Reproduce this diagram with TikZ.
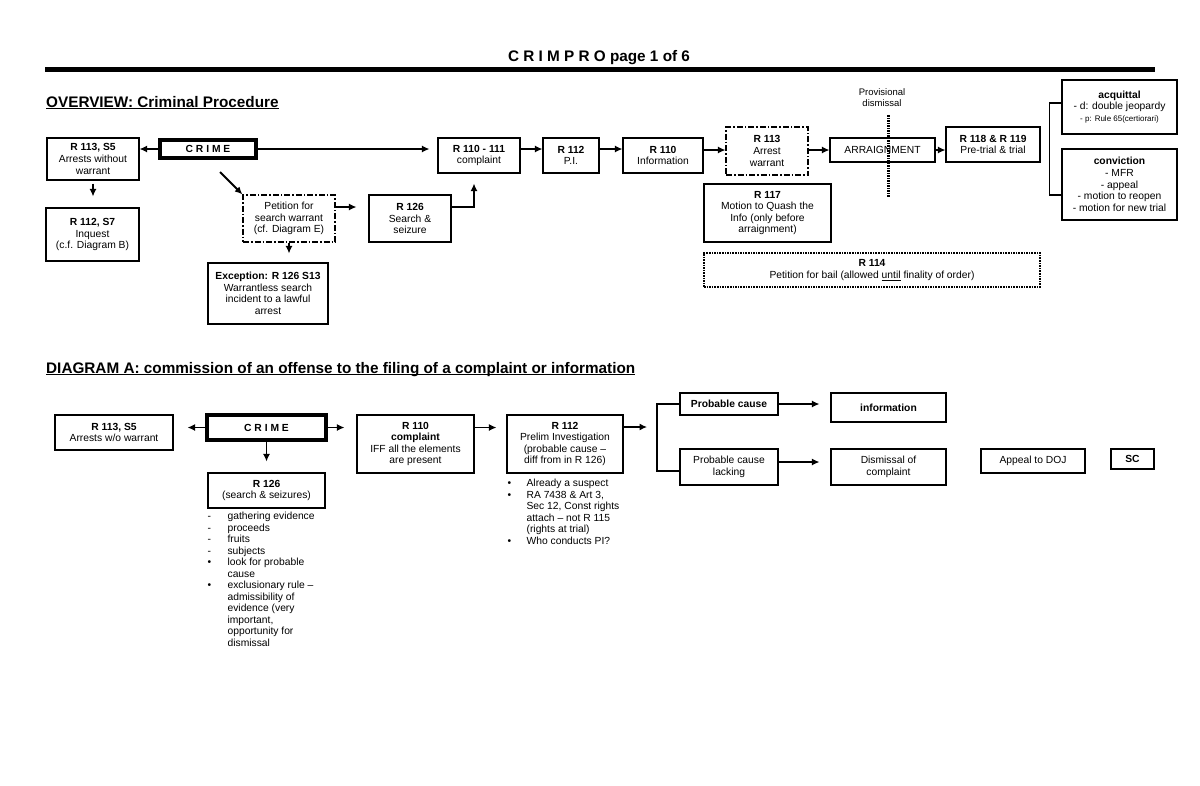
\documentclass[tikz,border=0pt]{standalone}
\usepackage{fontspec}
\setmainfont{Liberation Sans}
\usetikzlibrary{positioning,arrows.meta,calc}

\begin{document}
\begin{tikzpicture}[
x=1pt, y=-1pt,
box/.style={
  draw,
  line width=1.2pt,
  align=center,
  inner sep=1pt,
  font=\fontsize{10.3}{11.6}\selectfont
  },
sz/.style 2 args={minimum width=#1pt, minimum height=#2pt},
crime/.style={box, line width=3.8pt},
dashdot/.style={box, dash pattern=on 6pt off 2pt on 1.5pt off 2pt},
dotbox/.style={box, line width=2.2pt, dash pattern=on 1.6pt off 1pt},
notes/.style={inner sep=0pt, align=left, font=\fontsize{10.3}{11.5}\selectfont},
heading/.style={font=\fontsize{15.3}{17}\selectfont\bfseries, inner sep=0pt},
link/.style={line width=1.2pt},
>={Latex[length=7.5pt,width=7pt]}
]
\useasboundingbox (0,0) rectangle (1200,785);

% page header
\node[heading, anchor=base] (title) at (599,61) {C R I M P R O page 1 of 6};
\draw[line width=4.5pt] (45,69.5) -- (1155,69.5);
\node[heading, anchor=base west] (hOverview) at (46,107)
  {\underline{\smash{OVERVIEW: Criminal Procedure}}};

% overview
\node[crime, sz={96}{18}] (crimeA) at (208,149) {\textbf{C R I M E}};
\node[box, sz={92}{42}] (r113a) at (93,159) {\textbf{R 113, S5}\\Arrests without\\warrant};
\node[box, sz={93}{53}] (r112a) at (92.5,234.5) {\textbf{R 112, S7}\\Inquest\\(c.f. Diagram B)};
\node[dashdot, sz={92}{47}] (petition) at (289,218.5) {Petition for\\search warrant\\(cf. Diagram E)};
\node[box, sz={120}{61}] (exception) at (268,293.5)
  {\textbf{Exception: R 126 S13}\\Warrantless search\\incident to a lawful\\arrest};
\node[box, sz={82}{47}] (r126a) at (410,218.5) {\textbf{R 126}\\Search \&\\seizure};
\node[box, sz={82}{35}] (r110c) at (479,155.5) {\textbf{R 110 - 111}\\complaint};
\node[box, sz={56}{35}] (r112pi) at (571,155.5) {\textbf{R 112}\\P.I.};
\node[box, sz={80}{35}] (r110i) at (663,155.5) {\textbf{R 110}\\Information};
\node[dashdot, sz={82}{48}] (r113w) at (767,151) {\textbf{R 113}\\Arrest\\warrant};
\node[box, sz={105}{24}] (arraign) at (882.5,150) {ARRAIGNMENT};
\node[box, sz={94}{35}] (r118) at (993,144.5) {\textbf{R 118 \& R 119}\\Pre-trial \& trial};
\node[box, sz={127}{58}] (r117) at (767.5,213)
  {\textbf{R 117}\\Motion to Quash the\\Info (only before\\arraignment)};
\node[dotbox, sz={336}{34}] (r114) at (872,270)
  {\textbf{R 114}\\Petition for bail (allowed \underline{until} finality of order)};
\node[box, sz={115}{54}] (acquittal) at (1119.5,107)
  {\textbf{acquittal}\\- d: double jeopardy\\{\fontsize{8}{10}\selectfont - p: Rule 65(certiorari)}};
\node[box, sz={115}{71}] (conviction) at (1119.5,184.5)
  {\textbf{conviction}\\- MFR\\- appeal\\- motion to reopen\\- motion for new trial};
\node[font=\fontsize{9.5}{11}\selectfont, align=center, inner sep=0pt] (provisional) at (882,97.5)
  {Provisional\\dismissal};

\draw[link,->] (crimeA.west) -- (r113a.east |- crimeA.west);
\draw[link,->,shorten <=3pt,shorten >=11pt] (r113a.south) -- (r113a.south |- r112a.north);
\coordinate (cut) at (220,172);
\draw[line width=1.8pt,->] (cut) -- (petition.north west);
\draw[link,->,shorten >=12pt] ([yshift=11.5pt]petition.east) -- ([yshift=11.5pt]r126a.west);
\draw[link,->,shorten >=9pt] (petition.south) -- (petition.south |- exception.north);
\draw[link,->,shorten >=10pt] ([yshift=11.5pt]r126a.east) -| ([xshift=-5pt]r110c.south);
\draw[link,->,shorten >=8pt] (crimeA.east) -- (r110c.west |- crimeA.east);
\foreach \a/\b in {r110c/r112pi, r112pi/r110i}
  \draw[link,->] (\a.east |- crimeA) -- (\b.west |- crimeA);
\foreach \a/\b in {r110i/r113w, r113w/arraign, arraign/r118}
  \draw[link,->] (\a.east |- arraign) -- (\b.west |- arraign);
\draw[line width=3pt, dash pattern=on 1.5pt off 1pt] (888,115) -- (888,197);
\draw[link] ([yshift=4pt]acquittal.west) -- ++(-12,0) |- ([yshift=-10.5pt]conviction.west);

% diagram A
\node[heading, anchor=base west] (hDiagA) at (46,373)
  {\underline{\smash{DIAGRAM A: commission of an offense to the filing of a complaint or information}}};

\node[crime, sz={119}{25}] (crimeB) at (266.5,427.5) {\textbf{C R I M E}};
\node[box, sz={118}{35}] (r113b) at (114,432.5) {\textbf{R 113, S5}\\Arrests w/o warrant};
\node[box, sz={117}{35}] (r126b) at (266.5,490.5) {\textbf{R 126}\\(search \& seizures)};
\node[box, sz={117}{58}] (r110b) at (415.5,444)
  {\textbf{R 110}\\\textbf{complaint}\\IFF all the elements\\are present};
\node[box, sz={116}{58}] (r112b) at (565,444)
  {\textbf{R 112}\\Prelim Investigation\\(probable cause --\\diff from in R 126)};
\node[box, sz={98}{22}] (pc) at (729,404) {\textbf{Probable cause}};
\node[box, sz={115}{29}] (info) at (888.5,407.5) {\textbf{information}};
\node[box, sz={98}{36}] (pcl) at (729,467) {Probable cause\\lacking};
\node[box, sz={115}{36}] (dism) at (888.5,467) {Dismissal of\\complaint};
\node[box, sz={104}{24}] (doj) at (1033,461) {Appeal to DOJ};
\node[box, sz={43}{20}] (sc) at (1132.5,459) {\textbf{SC}};

\node[notes, below=3pt of r126b.south west, anchor=north west] (r126notes) {%
\begin{tabular}{@{}p{20pt}@{}l@{}}
- & gathering evidence\\
- & proceeds\\
- & fruits\\
- & subjects\\
\textbullet & look for probable\\
 & cause\\
\textbullet & exclusionary rule --\\
 & admissibility of\\
 & evidence (very\\
 & important,\\
 & opportunity for\\
 & dismissal
\end{tabular}};
\node[notes, below=5pt of r112b.south west, anchor=north west, xshift=1pt] (r112notes) {%
\begin{tabular}{@{}p{19pt}@{}l@{}}
\textbullet & Already a suspect\\
\textbullet & RA 7438 \& Art 3,\\
 & Sec 12, Const rights\\
 & attach -- not R 115\\
 & (rights at trial)\\
\textbullet & Who conducts PI?
\end{tabular}};

\draw[link,->,shorten >=14pt] (crimeB.west) -- (r113b.east |- crimeB.west);
\draw[link,->,shorten >=12pt] (crimeB.east) -- (r110b.west |- crimeB.east);
\draw[link,->,shorten >=11pt] (crimeB.south) -- (crimeB.south |- r126b.north);
\draw[link,->,shorten >=10pt] (r110b.east |- crimeB) -- (r112b.west |- crimeB);
\coordinate (split) at (657,427);
\draw[link,->,shorten >=10pt] (r112b.east |- split) -- (split);
\draw[link] (pc.west) -| (split) |- ([yshift=-4pt]pcl.west);
\draw[link,->,shorten >=11pt] (pc.east) -- (info.west |- pc.east);
\draw[link,->,shorten >=11pt] ([yshift=5pt]pcl.east) -- ([yshift=5pt]dism.west);

\end{tikzpicture}
\end{document}
